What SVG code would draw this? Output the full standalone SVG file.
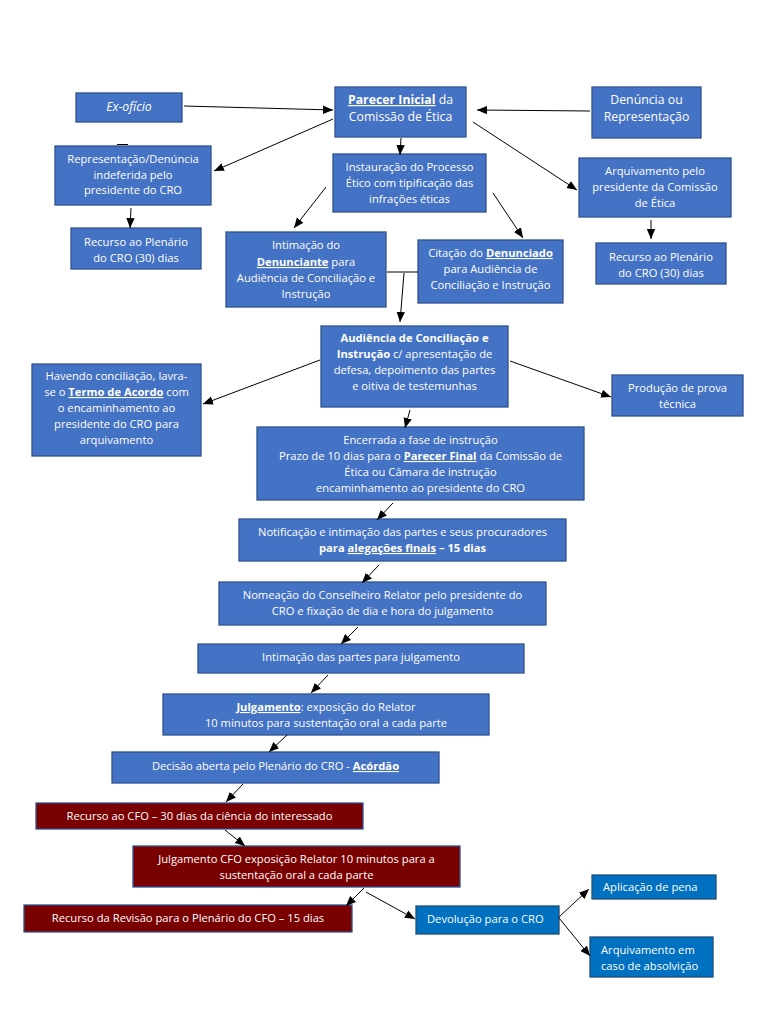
<svg xmlns="http://www.w3.org/2000/svg" width="768" height="1024" viewBox="0 0 768 1024">
<defs>
<marker id="ah" markerUnits="userSpaceOnUse" markerWidth="10" markerHeight="10" viewBox="0 0 10 10" refX="10" refY="5" orient="auto">
<path d="M0,0.8 L10,5 L0,9.2 z" fill="#000"/>
</marker>
<style>
.b{fill:#4472C4;stroke:#2F528F;stroke-width:1.3}
.r{fill:#7A0000;stroke:#2F528F;stroke-width:1.3}
.c{fill:#0070C0;stroke:#1F4E79;stroke-width:1.3}
text{font-family:"Open Sans","Liberation Sans",Arial,sans-serif;font-size:11.2px;fill:#fff;text-anchor:middle}
.l{text-anchor:start}
.big{font-size:12.3px}
.bu{font-weight:bold;text-decoration:underline}
.bd{font-weight:bold}
.con line,.con path{stroke:#000;stroke-width:1;fill:none}
.con .a{marker-end:url(#ah)}
</style>
</defs>
<rect width="768" height="1024" fill="#fff"/>

<g id="n-exoficio"><rect class="b" x="76" y="93" width="106" height="29"/><text x="129" y="111" class="big" font-style="italic">Ex-ofício</text></g>
<g id="n-parecer"><rect class="b" x="335" y="87" width="131" height="50"/><text x="400.5" y="104" class="big"><tspan class="bu">Parecer Inicial</tspan> da</text><text x="400.5" y="121" class="big">Comissão de Ética</text></g>
<g id="n-denuncia"><rect class="b" x="592" y="87" width="109" height="51"/><text x="646.5" y="104" class="big">Denúncia ou</text><text x="646.5" y="121" class="big">Representação</text></g>
<g id="n-indeferida"><rect class="b" x="55" y="146" width="156" height="59"/><text x="133" y="163">Representação/Denúncia</text><text x="133" y="179">indeferida pelo</text><text x="133" y="194">presidente do CRO</text></g>
<g id="n-recurso-l"><rect class="b" x="71" y="228" width="130" height="41"/><text x="136" y="246">Recurso ao Plenário</text><text x="136" y="262">do CRO (30) dias</text></g>
<g id="n-instauracao"><rect class="b" x="333" y="154" width="153" height="58"/><text x="409.5" y="171">Instauração do Processo</text><text x="409.5" y="187">Ético com tipificação das</text><text x="409.5" y="203">infrações éticas</text></g>
<g id="n-arquivamento"><rect class="b" x="579" y="158" width="152" height="59"/><text x="655" y="175">Arquivamento pelo</text><text x="655" y="191">presidente da Comissão</text><text x="655" y="207">de Ética</text></g>
<g id="n-recurso-r"><rect class="b" x="596" y="243" width="130" height="41"/><text x="661" y="261">Recurso ao Plenário</text><text x="661" y="277">do CRO (30) dias</text></g>
<g id="n-intimacao"><rect class="b" x="226" y="232" width="160" height="75"/><text x="306" y="249">Intimação do</text><text x="306" y="266"><tspan class="bu">Denunciante</tspan> para</text><text x="306" y="282">Audiência de Conciliação e</text><text x="306" y="298">Instrução</text></g>
<g id="n-citacao"><rect class="b" x="418" y="240" width="145" height="63"/><text x="490.5" y="257">Citação do <tspan class="bu">Denunciado</tspan></text><text x="490.5" y="273">para Audiência de</text><text x="490.5" y="289">Conciliação e Instrução</text></g>
<g id="n-audiencia"><rect class="b" x="321" y="326" width="187" height="81"/><text x="414.5" y="342" class="bd">Audiência de Conciliação e</text><text x="414.5" y="358"><tspan class="bd">Instrução</tspan> c/ apresentação de</text><text x="414.5" y="374">defesa, depoimento das partes</text><text x="414.5" y="390">e oitiva de testemunhas</text></g>
<g id="n-havendo"><rect class="b" x="32" y="364" width="169" height="92"/><text x="116.5" y="380">Havendo conciliação, lavra-</text><text x="116.5" y="396">se o <tspan class="bu">Termo de Acordo</tspan> com</text><text x="116.5" y="412">o encaminhamento ao</text><text x="116.5" y="428">presidente do CRO para</text><text x="116.5" y="444">arquivamento</text></g>
<g id="n-producao"><rect class="b" x="612" y="375" width="131" height="41"/><text x="677.5" y="392">Produção de prova</text><text x="677.5" y="408">técnica</text></g>
<g id="n-encerrada"><rect class="b" x="257" y="427" width="327" height="73"/><text x="420.5" y="444">Encerrada a fase de instrução</text><text x="420.5" y="460">Prazo de 10 dias para o <tspan class="bu">Parecer Final</tspan> da Comissão de</text><text x="420.5" y="476">Ética ou Câmara de instrução</text><text x="420.5" y="492">encaminhamento ao presidente do CRO</text></g>
<g id="n-notificacao"><rect class="b" x="239" y="519" width="327" height="42"/><text x="402.5" y="536">Notificação e intimação das partes e seus procuradores</text><text x="402.5" y="552" class="bd">para <tspan class="bu">alegações finais</tspan> – 15 dias</text></g>
<g id="n-nomeacao"><rect class="b" x="219" y="582" width="327" height="43"/><text x="382.5" y="599">Nomeação do Conselheiro Relator pelo presidente do</text><text x="382.5" y="615">CRO e fixação de dia e hora do julgamento</text></g>
<g id="n-intimacao-partes"><rect class="b" x="198" y="644" width="326" height="29"/><text x="361" y="661">Intimação das partes para julgamento</text></g>
<g id="n-julgamento"><rect class="b" x="163" y="694" width="326" height="41"/><text x="326" y="711"><tspan class="bu">Julgamento</tspan>: exposição do Relator</text><text x="326" y="727">10 minutos para sustentação oral a cada parte</text></g>
<g id="n-decisao"><rect class="b" x="112" y="752" width="327" height="31"/><text x="275.5" y="770">Decisão aberta pelo Plenário do CRO - <tspan class="bu">Acórdão</tspan></text></g>
<g id="n-recurso-cfo"><rect class="r" x="36" y="803" width="327" height="26"/><text x="199.5" y="820">Recurso ao CFO – 30 dias da ciência do interessado</text></g>
<g id="n-julgamento-cfo"><rect class="r" x="133" y="846" width="327" height="41"/><text x="296.5" y="863">Julgamento CFO exposição Relator 10 minutos para a</text><text x="296.5" y="879">sustentação oral a cada parte</text></g>
<g id="n-recurso-revisao"><rect class="r" x="24" y="905" width="328" height="27"/><text x="188" y="922">Recurso da Revisão para o Plenário do CFO – 15 dias</text></g>
<g id="n-devolucao"><rect class="c" x="416" y="906" width="143" height="28"/><text x="427" y="923" class="l">Devolução para o CRO</text></g>
<g id="n-aplicacao"><rect class="c" x="592" y="875" width="124" height="24"/><text x="603" y="891" class="l">Aplicação de pena</text></g>
<g id="n-arquivamento-abs"><rect class="c" x="590" y="937" width="123" height="40"/><text x="601" y="954" class="l">Arquivamento em</text><text x="601" y="970" class="l">caso de absolvição</text></g>

<g id="connectors" class="con">
<line class="a" x1="184" y1="106" x2="333" y2="110"/>
<line class="a" x1="590" y1="111" x2="477" y2="110"/>
<line class="a" x1="333" y1="119" x2="214" y2="171"/>
<line class="a" x1="401" y1="138" x2="400" y2="155"/>
<line class="a" x1="473" y1="122" x2="577" y2="190"/>
<line class="a" x1="131" y1="208" x2="130" y2="228"/>
<line class="a" x1="651" y1="220" x2="651" y2="239"/>
<line class="a" x1="326" y1="187" x2="294" y2="228"/>
<line class="a" x1="493" y1="193" x2="523" y2="238"/>
<line x1="387" y1="272" x2="418" y2="272"/>
<line class="a" x1="404" y1="273" x2="400" y2="322"/>
<line class="a" x1="320" y1="360" x2="203" y2="404"/>
<line class="a" x1="510" y1="361" x2="611" y2="397"/>
<line class="a" x1="410" y1="410" x2="405" y2="428"/>
<line class="a" x1="393" y1="503" x2="377" y2="520"/>
<line class="a" x1="379" y1="565" x2="362" y2="583"/>
<line class="a" x1="358" y1="627" x2="341" y2="644"/>
<line class="a" x1="328" y1="675" x2="311" y2="693"/>
<line class="a" x1="287" y1="735" x2="269" y2="752"/>
<line class="a" x1="243" y1="784" x2="226" y2="802"/>
<line class="a" x1="225" y1="830" x2="245" y2="846"/>
<line class="a" x1="364" y1="888" x2="346" y2="906"/>
<line class="a" x1="366" y1="892" x2="415" y2="919"/>
<line class="a" x1="559" y1="917" x2="589" y2="889"/>
<line class="a" x1="559" y1="918" x2="590" y2="956"/>
<line x1="117" y1="144.5" x2="128" y2="144.5" stroke-width="1.5"/>
</g>
</svg>
